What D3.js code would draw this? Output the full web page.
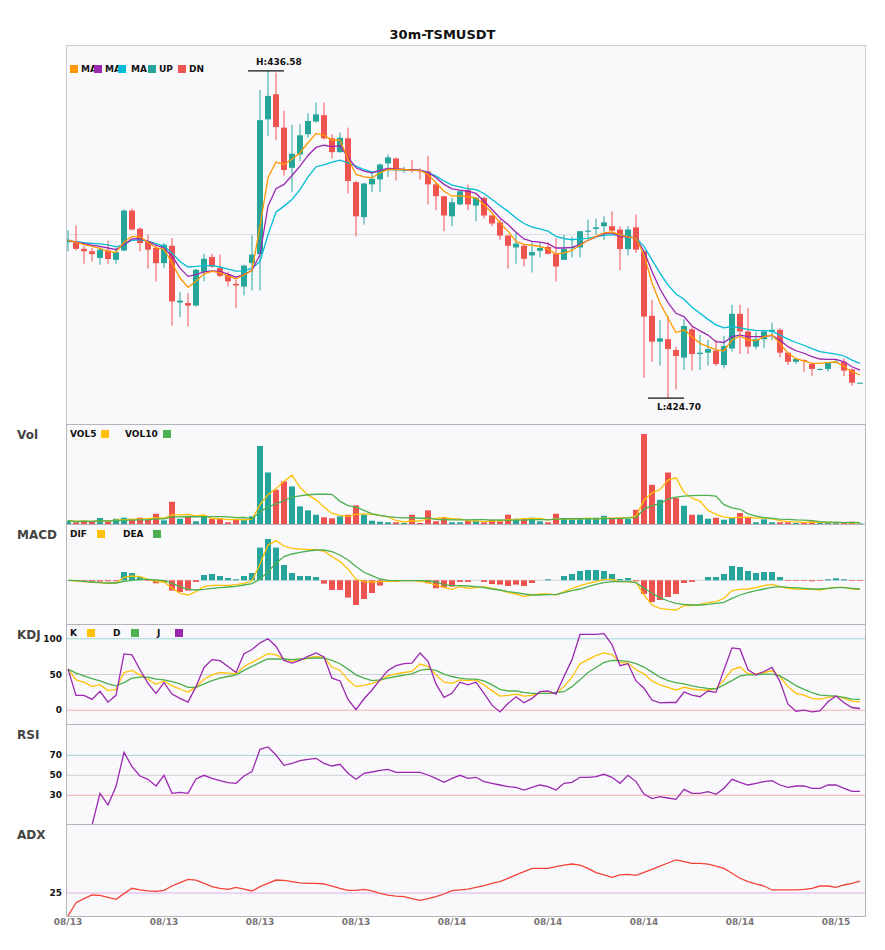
<!DOCTYPE html>
<html>
<head>
<meta charset="utf-8">
<script src="https://cdn.jsdelivr.net/npm/d3@7"></script>
<style>
body { margin: 0; background: #fff; }
text { font-family: "DejaVu Sans", sans-serif; }
</style>
</head>
<body>
<div id="chart"></div>
<script>
var title = "30m-TSMUSDT";

// 30m candles
var opens = [430.36,430.39,430.12,430.03,429.79,430.06,429.72,430.06,431.51,430.85,
430.39,430.15,429.60,430.23,428.17,428.15,428.06,429.28,429.82,429.42,
429.18,428.85,428.75,429.60,429.93,434.82,435.73,434.52,433.06,433.55,
434.28,434.74,434.97,434.13,433.63,434.13,432.54,431.27,432.46,432.64,
433.22,433.40,432.97,433.00,432.97,432.93,432.46,432.03,431.30,431.73,
432.25,431.69,431.97,431.33,431.08,430.60,430.17,430.23,429.88,430.05,
430.19,429.94,429.72,430.14,430.17,430.74,430.84,430.94,430.94,430.82,
430.11,430.90,430.03,427.69,426.75,426.84,426.45,426.17,427.20,426.30,
426.35,426.42,425.90,426.50,427.76,427.12,426.57,426.84,427.12,427.18,
426.35,426.02,426.08,425.94,425.73,425.76,425.99,426.02,425.74,425.23];

var highs = [430.79,430.97,430.21,430.15,430.17,430.42,430.15,431.55,431.58,430.90,
430.63,430.31,430.33,430.51,428.55,428.51,429.40,429.94,429.94,429.91,
429.28,429.00,429.54,430.61,435.88,436.58,436.52,435.13,434.62,434.64,
435.04,435.43,435.43,434.28,434.34,434.52,432.58,432.52,432.94,433.22,
433.55,433.43,433.09,433.34,433.04,433.49,432.52,432.03,431.97,432.25,
432.46,432.01,432.01,431.33,431.18,430.63,430.70,430.31,430.39,430.36,
430.36,430.51,430.63,430.57,430.76,431.18,431.22,431.30,431.48,430.94,
430.94,431.36,430.03,428.27,427.54,427.69,426.57,427.56,427.30,426.99,
426.81,426.81,426.96,428.09,428.09,427.97,427.12,427.18,427.44,427.24,
426.35,426.14,426.11,425.99,425.78,425.99,426.11,426.14,425.78,425.26];

var lows = [430.03,430.06,429.58,429.66,429.54,429.58,429.58,430.03,430.79,430.03,
429.40,428.94,429.42,427.33,427.64,427.30,428.03,428.94,429.42,429.09,
428.75,427.96,428.43,428.61,428.61,434.21,434.06,432.78,432.19,433.31,
434.15,434.70,434.09,433.40,433.61,432.13,430.57,431.00,432.18,432.18,
432.73,432.60,432.88,432.88,432.64,431.73,431.52,430.76,430.94,431.70,
431.52,431.12,431.22,430.94,430.45,429.40,429.58,429.48,429.26,429.81,
429.91,428.94,429.72,429.81,429.81,430.49,430.63,430.43,430.76,429.34,
429.88,429.97,425.44,426.02,425.88,424.70,425.02,425.72,425.70,425.72,
425.88,425.87,425.78,426.39,426.30,426.30,426.47,426.51,426.81,426.18,
425.90,425.94,425.66,425.51,425.70,425.66,425.96,425.50,425.15,425.22];

var closes = [430.45,430.12,430.03,429.93,430.09,429.75,430.00,431.51,430.82,430.33,
430.09,429.60,430.27,428.21,428.24,428.06,429.36,429.76,429.48,429.14,
428.94,428.79,429.51,429.91,434.79,435.67,434.54,432.98,433.57,434.24,
434.76,435.00,434.13,433.63,434.15,432.58,431.30,432.49,432.66,433.18,
433.44,433.00,433.00,432.97,432.93,432.46,432.03,431.33,431.81,432.21,
431.73,431.97,431.33,431.04,430.60,430.23,430.31,429.76,430.00,430.15,
429.94,429.48,430.11,430.19,430.76,430.78,430.90,431.08,430.78,430.11,
430.82,430.09,427.66,426.75,426.87,426.48,426.23,427.32,426.30,426.35,
426.48,425.94,426.59,427.76,427.12,426.57,426.84,427.12,427.18,426.35,
426.02,426.12,426.05,425.76,425.76,425.99,426.02,425.70,425.26,425.26];

var ma5 = [430.43,430.36,430.27,430.21,430.14,430.02,429.99,430.36,430.57,430.55,
430.36,430.15,430.11,429.60,429.06,428.72,428.94,429.21,429.30,429.26,
429.12,429.03,429.18,429.34,430.94,432.70,433.27,433.18,433.37,433.61,
433.97,434.31,434.24,434.07,434.06,433.40,432.82,432.73,432.70,432.88,
433.00,433.00,433.00,432.98,432.97,432.82,432.52,432.21,432.03,432.05,
432.01,431.97,431.73,431.42,431.06,430.76,430.39,430.28,430.25,430.21,
430.11,429.93,429.97,430.06,430.25,430.43,430.57,430.70,430.73,430.63,
430.55,430.50,429.91,428.88,428.15,427.60,427.08,427.18,426.93,426.69,
426.57,426.45,426.42,426.81,426.96,426.81,426.79,426.93,426.99,426.69,
426.33,426.13,426.05,425.96,425.96,425.99,426.02,425.84,425.66,425.54];

var ma10 = [430.43,430.37,430.31,430.25,430.21,430.15,430.09,430.27,430.48,430.49,
430.39,430.25,430.15,429.85,429.42,429.12,429.18,429.28,429.32,429.30,
429.20,429.09,429.18,429.34,429.91,431.67,432.30,432.46,432.78,433.12,
433.51,433.80,433.88,433.83,433.86,433.45,433.06,432.94,432.88,432.97,
433.04,433.03,433.00,432.99,432.98,432.90,432.70,432.46,432.30,432.25,
432.21,432.13,431.85,431.55,431.24,431.00,430.72,430.48,430.39,430.36,
430.31,430.15,430.15,430.17,430.27,430.43,430.55,430.67,430.70,430.57,
430.55,430.51,430.03,429.30,428.66,428.17,427.78,427.66,427.32,427.14,
426.99,426.75,426.72,426.93,426.99,426.93,426.93,426.93,426.98,426.81,
426.57,426.42,426.33,426.21,426.12,426.11,426.11,426.02,425.84,425.72];

var ma20 = [430.39,430.38,430.34,430.32,430.30,430.26,430.19,430.27,430.43,430.45,
430.39,430.31,430.21,429.97,429.66,429.46,429.48,429.51,429.51,429.46,
429.38,429.31,429.32,429.41,429.66,430.63,431.45,431.67,431.91,432.27,
432.73,433.10,433.17,433.27,433.34,433.24,433.12,433.00,432.90,432.95,
433.00,432.99,432.99,432.98,432.98,432.90,432.76,432.58,432.43,432.37,
432.30,432.27,432.13,431.91,431.69,431.48,431.24,431.04,430.91,430.84,
430.76,430.57,430.49,430.45,430.48,430.50,430.56,430.61,430.63,430.63,
430.57,430.51,430.21,429.72,429.24,428.81,428.48,428.29,428.00,427.78,
427.56,427.36,427.25,427.30,427.25,427.20,427.16,427.15,427.13,426.99,
426.84,426.72,426.62,426.50,426.39,426.34,426.30,426.23,426.08,425.96];

var volumes = [3.3,1.7,3.3,2,6,2.7,5.3,6.3,4.3,6.3,
4.3,10.3,3.7,22.3,5.3,7,2.7,7.7,5,5,
1.7,4.3,5.3,7.7,78.3,51.7,34.3,42.7,37.7,17.7,
13.7,9.3,6.7,5.7,7.7,9.3,18.7,9.3,3.3,2.3,
1.7,1.7,1,9.3,1,13.7,2.7,6,1.7,1.7,
3.3,3.3,1.7,4.3,2.7,9.3,5.3,5,6.3,2.7,
1.7,10.3,5,4.3,5,5,6.3,8.3,5,6.3,
5,14.3,90.3,39.3,24.3,51.7,26,18.3,9.3,9.3,
5.3,6.3,4.3,6,11,6.7,1.7,4.7,1.7,1.7,
1.7,1,1.7,2.7,1,1,1,1,2.3,0.7];

var vol5 = [3.3,2.5,2.77,2.58,3.26,3.14,3.86,4.46,4.92,4.98,
5.3,6.3,5.78,9.38,9.18,9.72,8.2,9.0,5.54,5.48,
4.42,4.74,4.26,4.8,19.46,29.46,35.46,42.94,48.94,36.82,
29.22,24.22,17.02,10.62,8.62,7.74,9.62,10.14,9.66,8.58,
7.06,3.66,2.0,3.2,2.94,5.34,5.54,6.54,5.02,5.16,
3.08,3.2,2.34,2.86,3.06,4.26,4.66,5.32,5.72,5.72,
4.2,5.2,5.2,4.8,5.26,5.92,5.12,5.78,5.92,6.18,
6.18,7.78,24.18,31.04,34.64,43.98,46.32,31.92,25.92,22.92,
13.64,9.7,6.9,6.24,6.58,6.86,5.94,6.02,5.16,3.3,
2.3,2.16,1.56,1.76,1.62,1.48,1.48,1.34,1.26,1.2];

var vol10 = [3.3,2.5,2.77,2.58,3.26,3.17,3.47,3.83,3.88,4.12,
4.22,5.08,5.12,7.15,7.08,7.51,7.25,7.39,7.46,7.33,
7.07,6.47,6.63,5.17,12.47,16.94,20.1,23.6,26.87,28.14,
29.34,29.84,29.98,29.78,22.72,18.48,16.92,13.58,10.14,8.6,
7.4,6.64,6.07,6.43,5.76,6.2,4.6,4.27,4.11,4.05,
4.21,4.37,4.44,3.94,4.11,3.67,3.93,3.83,4.29,4.39,
4.23,4.93,5.26,5.26,5.49,5.06,5.16,5.49,5.36,5.72,
6.05,6.45,14.98,18.48,20.41,25.08,27.05,28.05,28.48,28.78,
28.81,28.01,19.41,16.08,14.75,10.25,7.82,6.46,5.7,4.94,
4.58,4.05,3.79,3.46,2.46,1.89,1.82,1.45,1.51,1.41];

// MACD in chart units (x0.01)
var dif = [0,-0.7,-1.3,-2,-2.3,-3,-2.7,3,4.3,3.7,
1,-1,-1.7,-8,-13,-14.7,-11.3,-6.3,-5,-5,
-5,-4.3,-3,-0.7,16.3,35.3,39.7,34.3,32,31.3,
31,30.7,29,23.7,18.7,11.3,1,-1.3,-1.7,-1.3,
-1,-0.7,-0.3,-0.3,-1,-2.3,-4.7,-7,-9,-6.3,
-8,-7.3,-6.3,-8,-9.7,-12.3,-13.7,-16.3,-14.7,-13.7,
-13.7,-14.7,-11.3,-8,-5.3,-3,-1.3,1,1,-1.3,
-1.3,-2,-14.7,-24.7,-28,-29,-29.7,-25.3,-25.3,-24,
-22.3,-21.3,-18,-10.3,-9,-8.7,-7.3,-5.3,-4,-6.3,
-8,-8.7,-9,-9,-9.7,-8,-7,-7,-8.7,-9];

var dea = [0,-0.3,-1,-1.7,-2.3,-2.7,-2.7,-1,0,1,
1,0.3,-0.3,-3,-6.3,-9,-9.7,-9,-8,-7.3,
-6.7,-6,-4.7,-3.3,1,8.7,17,23.7,26.3,28,
29.3,30.3,30.3,28.7,25.3,20.3,13.7,8,4.7,1.3,
0,-0.3,-0.3,-0.3,-0.3,-0.7,-1.7,-4.3,-5.3,-5.3,
-5.7,-6.3,-7.3,-8.7,-9.7,-11.3,-12.3,-13.7,-14.7,-14.7,
-14.3,-14,-12.3,-10.3,-8.7,-6.3,-4,-2.3,-1.3,-1.3,
-1.3,-2.3,-8,-13,-17.3,-20.7,-23,-24,-24.7,-24.7,
-24,-23,-22,-18,-14.7,-12.3,-10.3,-8.7,-7,-6.3,
-7,-7.3,-8,-8.7,-8.7,-8,-7.3,-7.3,-8,-8.7];

var macdHist = [0,-0.7,-1,-1.3,-1.3,-1,-1,8.3,7.3,3.3,
-0.7,-3,-2,-10.3,-11.7,-10.3,-1.7,5.3,6.3,4.3,
2.3,1,4.3,7.3,32.7,41.3,32.7,15.3,7.3,4.3,
4.3,3.3,-3.3,-9.7,-9.7,-17.3,-24.7,-18.7,-12.7,-5.3,
-1.3,-1.7,-0.7,-0.3,-1.7,-3,-8,-7.3,-6.3,-1.7,
-1.7,0,-1.7,-3.7,-4.3,-5.7,-4.3,-5.7,-2.7,0,
1,0,4.3,6.3,9.3,10.3,10.3,9.3,6.3,1.3,
2.3,-1,-13.7,-21.7,-19.7,-16.7,-13.7,-2.7,-1.7,0,
3.3,3.3,6.3,14.3,13.3,9.3,7.3,8.3,8.3,3.3,
-0.7,-0.7,-0.7,-1,-0.7,1,2,1,-0.7,-0.7];

var kVals = [57.5,42.5,39.2,33,35.8,27.4,29.2,52.8,55.7,49.5,
43.4,36.3,41,34,29.7,25,33,43.4,49.5,52.8,
51.9,50.9,61.3,67,73.1,79.2,77.4,71.7,68.4,70.8,
73.1,75.5,74.1,60.4,55.7,42.5,33,34.9,37.7,41.5,
48.1,50.9,52.8,54.2,64.6,61.3,49.5,39.2,37.7,42.5,
41.5,42.5,35.4,27.4,19.8,20.8,22.6,19.8,20.8,23.6,
23.6,23.6,33,46.2,65.1,70.8,76.4,80.2,77.8,67,
66,56.6,50.9,41,35.4,32.1,28.3,32.1,29.7,28.3,
28.3,30.2,42.5,56.6,60.4,50.9,50.9,52.8,55.2,47.2,
33,23.6,21.2,16.5,15.6,17.9,19.8,16.5,12.7,11.8];

var dVals = [57.5,51.9,48.1,44.3,41,36.8,34,38.7,44.8,46.2,
46.2,43.4,42.5,40.1,36.8,32.1,32.1,36.8,41.5,44.8,
47.2,49.5,55.7,61.3,67,71.7,71.7,71.7,70.8,71.7,
72.6,73.1,73.1,69.8,65.1,57.5,49.5,44.8,41.5,42.5,
44.8,47.2,49.1,50.9,55.7,57.5,55.7,50.5,47.2,44.8,
43.4,43.4,41,35.4,29.2,26.9,26.9,25,23.6,23.6,
23.6,25,25.9,33,42.5,52.8,59.9,67,69.8,69.3,
68.4,65.1,60.4,53.3,46.2,41.5,38.7,36.8,34,32.1,
30.7,29.7,35.4,41.5,48.1,49.5,49.5,50.5,50.5,48.1,
41.5,34.4,29.2,24.5,21.2,20.3,19.8,17.9,15.6,15.1];

var jVals = [57.5,20.8,20.8,15.1,26.4,11.3,20.8,78.8,77.4,56.6,
37.7,23.6,38.7,22.6,16.5,11.3,33,59.9,70.8,69.3,
61.3,52.8,79.2,84.9,94.3,100,89.6,69.8,66,69.8,
75.5,80.2,74.5,44.8,41,15.1,0.9,16,28.3,42.5,
55.7,62.3,65.1,66,80.2,68.4,36.8,17.9,23.6,39.2,
35.4,39.2,23.6,7.1,-2.4,9.4,18.9,10.4,16.5,25.9,
26.9,22.6,47.2,70.8,106.1,106.1,106.1,107.1,92,62.3,
65.1,41,30.7,14.2,10.4,10.8,10.8,25.5,21.2,18.9,
26.9,25,56.6,87.3,85.8,56.6,49.5,54.2,59.9,40.1,
8.5,-1.4,0,-2.4,-0.9,11.8,19.8,10.4,3.8,2.4];

var rsiVals = [null,0,0,0,32,20.3,38.7,73,58.7,49.3,
46,39.3,50,32,33,32,46.3,50,47,44.7,
42.7,42,49.3,53.7,76,78.3,70.3,60,62,64.7,
66,67,62,59.3,61,52,46,52,53.3,55,
56,53,53,53,53,50.3,47,43,47,50,
47,48,43.7,42,40.3,38.7,38,35.3,38,40.3,
38.7,35.3,42,43,48,48,48.7,51,48,42,
50,43.7,31.3,26.7,28.7,27.3,26,36,32,32,
33.7,31,37,46,43,40.3,42,43.7,44.7,40.3,
38,39.3,39.3,37,37,40.3,40.3,37,34,34];

var adxVals = [0,14.5,18.8,22.8,22.5,20.3,18.1,24.3,30.1,28.3,
27.2,26.8,27.9,32.6,36.2,39.9,39.1,35.5,31.9,30.1,
29,31.2,29.3,27.2,31.9,35.5,39.1,38.8,37.3,35.9,
35.5,35.5,34.8,32.6,30.1,27.9,27.9,29,27.2,24.6,
22.8,21.7,21,18.8,17.1,18.8,21,23.9,27.5,28.3,
29.3,31.2,33,35.5,37.3,41,44.6,48.2,51.8,51.8,
51.8,53.6,55.4,56.5,55.4,51.8,47.1,44.6,42.1,44.6,
45.3,44.2,47.5,50.7,54.3,57.6,60.9,59,57.2,57.2,
56.5,54.3,51.8,46.4,41,37.3,34.8,32.6,28.3,28.3,
28.3,28.3,29,30.1,32.6,32.6,31.2,33.7,35.5,38];

var tickIndex = [0,12,24,36,48,60,72,84,96];
var tickLabels = ["08/13","08/13","08/13","08/13","08/14","08/14","08/14","08/14","08/15"];

var upColor = "#26a69a", dnColor = "#ef5350";

var width = 885, height = 950;
var left = 66, right = 866;
var n = closes.length;

var svg = d3.select("#chart").append("svg")
	.attr("width", width)
	.attr("height", height);

var x = d3.scaleLinear()
	.domain([0, n - 1])
	.range([68, 860]);

var panels = [
	{ key: "main", top: 45, bottom: 424, label: null },
	{ key: "vol", top: 424, bottom: 524, label: "Vol" },
	{ key: "macd", top: 524, bottom: 624, label: "MACD" },
	{ key: "kdj", top: 624, bottom: 724, label: "KDJ" },
	{ key: "rsi", top: 724, bottom: 824, label: "RSI" },
	{ key: "adx", top: 824, bottom: 916, label: "ADX" }
];

var defs = svg.append("defs");
var layer = {};
panels.forEach(function(p) {
	svg.append("rect")
		.attr("x", left).attr("y", p.top)
		.attr("width", right - left).attr("height", p.bottom - p.top)
		.attr("fill", "#f9f9fb");
	defs.append("clipPath").attr("id", "clip-" + p.key)
		.append("rect")
		.attr("x", left).attr("y", p.top)
		.attr("width", right - left).attr("height", p.bottom - p.top);
	layer[p.key] = svg.append("g").attr("clip-path", "url(#clip-" + p.key + ")");
	if (p.label) {
		svg.append("text")
			.attr("x", 17).attr("y", p.top + 11)
			.attr("dy", "0.35em")
			.attr("font-size", 12).attr("font-weight", "bold")
			.attr("fill", "#444")
			.text(p.label);
	}
});

svg.append("text")
	.attr("x", width / 2).attr("y", 34)
	.attr("text-anchor", "middle")
	.attr("dy", "0.35em")
	.attr("font-size", 13).attr("font-weight", "bold")
	.attr("fill", "#111")
	.text(title);

// ---- main (candles) ----
var pMin = d3.min(lows), pMax = d3.max(highs);
var pPad = (pMax - pMin) * 0.079;
var yPrice = d3.scaleLinear()
	.domain([pMin - pPad, pMax + pPad])
	.range([424, 45]);

var gMain = layer.main;
gMain.append("line")
	.attr("x1", left).attr("x2", right)
	.attr("y1", yPrice((pMin + pMax) / 2)).attr("y2", yPrice((pMin + pMax) / 2))
	.attr("stroke", "#dddde2").attr("stroke-width", 1);

var candles = gMain.selectAll(".candle")
		.data(d3.range(n))
	.enter().append("g")
		.attr("class", "candle");

candles.append("line")
	.attr("x1", function(i) { return x(i); })
	.attr("x2", function(i) { return x(i); })
	.attr("y1", function(i) { return yPrice(highs[i]); })
	.attr("y2", function(i) { return yPrice(lows[i]); })
	.attr("stroke", function(i) { return closes[i] >= opens[i] ? upColor : dnColor; })
	.attr("stroke-width", 1);

candles.append("rect")
	.attr("x", function(i) { return x(i) - 3; })
	.attr("width", 6)
	.attr("y", function(i) { return yPrice(Math.max(opens[i], closes[i])); })
	.attr("height", function(i) {
		return Math.max(1, Math.abs(yPrice(opens[i]) - yPrice(closes[i])));
	})
	.attr("fill", function(i) { return closes[i] >= opens[i] ? upColor : dnColor; });

var drawLine = function(g, values, yScale, color) {
	var line = d3.line()
		.defined(function(v) { return v != null; })
		.x(function(v, i) { return x(i); })
		.y(function(v) { return yScale(v); });
	g.append("path")
		.datum(values)
		.attr("d", line)
		.attr("fill", "none")
		.attr("stroke", color)
		.attr("stroke-width", 1.3);
};

drawLine(gMain, ma20, yPrice, "#00bcd4");
drawLine(gMain, ma10, yPrice, "#9c27b0");
drawLine(gMain, ma5, yPrice, "#ff9800");

// high / low markers
var hi = d3.maxIndex(highs), lo = d3.minIndex(lows);
svg.append("line")
	.attr("x1", x(hi) - 20).attr("x2", x(hi) + 16)
	.attr("y1", yPrice(highs[hi])).attr("y2", yPrice(highs[hi]))
	.attr("stroke", "#111").attr("stroke-width", 1.2);
svg.append("text")
	.attr("x", x(hi) - 12).attr("y", yPrice(highs[hi]) - 6)
	.attr("font-size", 9).attr("font-weight", "bold").attr("fill", "#111")
	.text("H:" + highs[hi].toFixed(2));
svg.append("line")
	.attr("x1", x(lo) - 20).attr("x2", x(lo) + 16)
	.attr("y1", yPrice(lows[lo])).attr("y2", yPrice(lows[lo]))
	.attr("stroke", "#111").attr("stroke-width", 1.2);
svg.append("text")
	.attr("x", x(lo) - 11).attr("y", yPrice(lows[lo]) + 12)
	.attr("font-size", 9).attr("font-weight", "bold").attr("fill", "#111")
	.text("L:" + lows[lo].toFixed(2));

// legend helper: [text, color, textX, swatchX]
var legend = function(items, y) {
	items.forEach(function(it) {
		svg.append("text")
			.attr("x", it[2]).attr("y", y)
			.attr("dy", "0.35em")
			.attr("font-size", 9).attr("font-weight", "bold").attr("fill", "#111")
			.text(it[0]);
	});
	items.forEach(function(it) {
		svg.append("rect")
			.attr("x", it[3]).attr("y", y - 4)
			.attr("width", 8).attr("height", 8)
			.attr("fill", it[1]);
	});
};

legend([["MA5", "#ff9800", 81, 70], ["MA10", "#9c27b0", 105, 94], ["MA20", "#00bcd4", 131, 118],
	["UP", upColor, 159, 148], ["DN", dnColor, 189, 178]].map(function(d, k) {
		return k < 3 ? ["MA", d[1], d[2], d[3]] : d;
	}), 69);

// ---- volume ----
var yVol = d3.scaleLinear()
	.domain([0, d3.max(volumes) / 0.9])
	.range([524, 424]);

layer.vol.selectAll(".vbar")
		.data(d3.range(n))
	.enter().append("rect")
		.attr("class", "vbar")
		.attr("x", function(i) { return x(i) - 3; })
		.attr("width", 6)
		.attr("y", function(i) { return yVol(volumes[i]); })
		.attr("height", function(i) { return 524 - yVol(volumes[i]); })
		.attr("fill", function(i) { return closes[i] >= opens[i] ? upColor : dnColor; });

drawLine(layer.vol, vol5, yVol, "#ffc107");
drawLine(layer.vol, vol10, yVol, "#4caf50");
legend([["VOL5", "#ffc107", 70, 101], ["VOL10", "#4caf50", 125, 163]], 434);

// ---- MACD ----
var yMacd = d3.scaleLinear()
	.domain([-43.7, 56.3])
	.range([624, 524]);

layer.macd.append("line")
	.attr("x1", left).attr("x2", right)
	.attr("y1", yMacd(0)).attr("y2", yMacd(0))
	.attr("stroke", "#d6d6dc");

layer.macd.selectAll(".mbar")
		.data(d3.range(n))
	.enter().append("rect")
		.attr("class", "mbar")
		.attr("x", function(i) { return x(i) - 3; })
		.attr("width", 6)
		.attr("y", function(i) { return yMacd(Math.max(0, macdHist[i])); })
		.attr("height", function(i) { return Math.abs(yMacd(macdHist[i]) - yMacd(0)); })
		.attr("fill", function(i) { return macdHist[i] >= 0 ? upColor : dnColor; });

drawLine(layer.macd, dif, yMacd, "#ffc107");
drawLine(layer.macd, dea, yMacd, "#4caf50");
legend([["DIF", "#ffc107", 70, 97], ["DEA", "#4caf50", 123, 153]], 534);

// ---- reference lines + tick labels ----
var refLines = function(g, yScale, levels) {
	levels.forEach(function(l) {
		g.append("line")
			.attr("x1", left).attr("x2", right)
			.attr("y1", yScale(l[0])).attr("y2", yScale(l[0]))
			.attr("stroke", l[1]).attr("stroke-width", 1);
		svg.append("text")
			.attr("x", 62).attr("y", yScale(l[0]))
			.attr("dy", "0.35em").attr("text-anchor", "end")
			.attr("font-size", 9).attr("font-weight", "bold").attr("fill", "#111")
			.text(l[0]);
	});
};

// ---- KDJ ----
var yKdj = d3.scaleLinear().domain([-20, 120]).range([724.5, 624.5]);
refLines(layer.kdj, yKdj, [[100, "#9fd6d6"], [50, "#cfcfd4"], [0, "#f3b3b3"]]);
drawLine(layer.kdj, kVals, yKdj, "#ffc107");
drawLine(layer.kdj, dVals, yKdj, "#4caf50");
drawLine(layer.kdj, jVals, yKdj, "#9c27b0");
legend([["K", "#ffc107", 70, 87], ["D", "#4caf50", 113, 131], ["J", "#9c27b0", 157, 175]], 633);

// ---- RSI ----
var yRsi = d3.scaleLinear().domain([0, 100]).range([825.3, 725.3]);
refLines(layer.rsi, yRsi, [[70, "#9fd6d6"], [50, "#cfcfd4"], [30, "#f3b3b3"]]);
drawLine(layer.rsi, rsiVals, yRsi, "#9c27b0");

// ---- ADX ----
var yAdx = d3.scaleLinear().domain([0, 100]).range([916, 824]);
refLines(layer.adx, yAdx, [[25, "#ddb0e6"]]);
drawLine(layer.adx, adxVals, yAdx, "#f44336");

// ---- borders ----
panels.forEach(function(p, k) {
	svg.append("rect")
		.attr("x", left + 0.5).attr("y", p.top + 0.5)
		.attr("width", right - left - 1).attr("height", p.bottom - p.top)
		.attr("fill", "none")
		.attr("stroke", k === 0 ? "#cacad0" : "#b4b4ba")
		.attr("stroke-width", 1);
});

// ---- x axis ----
svg.selectAll(".xtick")
		.data(tickIndex)
	.enter().append("text")
		.attr("class", "xtick")
		.attr("x", function(i) { return x(i); })
		.attr("y", 922)
		.attr("dy", "0.35em")
		.attr("text-anchor", "middle")
		.attr("font-size", 9).attr("font-weight", "bold").attr("fill", "#777")
		.text(function(i, k) { return tickLabels[k]; });
</script>
</body>
</html>
